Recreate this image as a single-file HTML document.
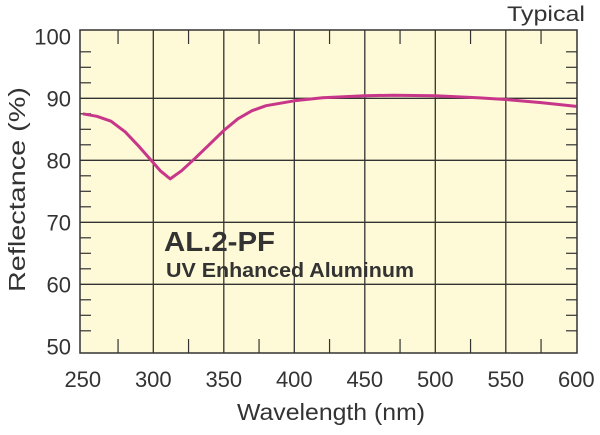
<!DOCTYPE html>
<html><head><meta charset="utf-8"><style>
body{margin:0;background:#fff}
svg text{font-family:"Liberation Sans",sans-serif;fill:#333}
</style></head><body>
<svg width="600" height="430" viewBox="0 0 600 430">
<g id="g"></g>
</svg>
<script>
const xTicks=[250,300,350,400,450,500,550,600];
const yTicks=[50,60,70,80,90,100];
const wavelengths=[250,260,270,280,290,300,305,312,320,330,340,350,360,370,380,400,420,450,470,500,530,550,575,600];
const reflectance=[87.5,87.1,86.3,84.6,82.2,79.6,78.3,77,78.3,80.4,82.6,84.8,86.7,88,88.8,89.6,90.1,90.4,90.5,90.4,90.1,89.8,89.3,88.7];
const NS='http://www.w3.org/2000/svg';
const g=document.getElementById('g');
const X=v=>82.8+(v-250)*70.5/50;
const Y=v=>98.3-(v-90)*6.2;
function el(t,a){const e=document.createElementNS(NS,t);for(const k in a)e.setAttribute(k,a[k]);g.appendChild(e);return e;}
const L=80,R=577,T=30,B=353;
let bg=el('rect',{x:L,y:T,width:R-L,height:B-T,fill:'#fef9d6'});


xTicks.forEach((v,i)=>{
 if(i>0&&i<xTicks.length-1){let l=el('line',{x1:X(v),x2:X(v),y1:T,y2:B,stroke:'#333','stroke-width':1.3});
 
 }
 if(i<xTicks.length-1){const m=X(v+25);
  el('line',{x1:m,x2:m,y1:T,y2:T+14,stroke:'#333','stroke-width':1.2});
  el('line',{x1:m,x2:m,y1:B,y2:B-14,stroke:'#333','stroke-width':1.2});}
 let t=el('text',{x:X(v),y:387,'text-anchor':'middle','font-size':22});t.textContent=v;
 
 
});
yTicks.forEach((v,i)=>{
 if(i>0&&i<yTicks.length-1){let l=el('line',{x1:L,x2:R,y1:Y(v),y2:Y(v),stroke:'#333','stroke-width':1.3});
 
 }
 [2.5,5,7.5].forEach(d=>{if(v+d<=100){const yy=Y(v+d);
  el('line',{x1:L,x2:L+11,y1:yy,y2:yy,stroke:'#333','stroke-width':1.2});
  el('line',{x1:R,x2:R-11,y1:yy,y2:yy,stroke:'#333','stroke-width':1.2});}});
 let t=el('text',{x:71,y:Y(v)+8,'text-anchor':'end','font-size':22});t.textContent=v;
 
 
});
let fr=el('rect',{x:L,y:T,width:R-L,height:B-T,fill:'none',stroke:'#333','stroke-width':1.5});


let d=wavelengths.map((w,i)=>(i?'L':'M')+X(w).toFixed(1)+','+Y(reflectance[i]).toFixed(1)).join(' ');
let p=el('path',{d:d,fill:'none',stroke:'#c8368a','stroke-width':3,'stroke-linejoin':'round'});


function txt(s,a,n){let t=el('text',a);t.textContent=s;return t;}
txt('Typical',{x:507,y:21,'font-size':21,textLength:78,lengthAdjust:'spacingAndGlyphs'},'typical-label');
txt('Wavelength (nm)',{x:237,y:420,'font-size':23,textLength:188,lengthAdjust:'spacingAndGlyphs'},'x-axis-title');
txt('Reflectance (%)',{x:-102,y:0,'font-size':23,textLength:205,lengthAdjust:'spacingAndGlyphs',transform:'translate(25,190) rotate(-90)'},'y-axis-title');
txt('AL.2-PF',{x:164,y:251,'font-size':28,'font-weight':'bold',textLength:111,lengthAdjust:'spacingAndGlyphs'},'product-title');
txt('UV Enhanced Aluminum',{x:166,y:277,'font-size':20,'font-weight':'bold',textLength:248,lengthAdjust:'spacingAndGlyphs'},'product-subtitle');
</script>
</body></html>
